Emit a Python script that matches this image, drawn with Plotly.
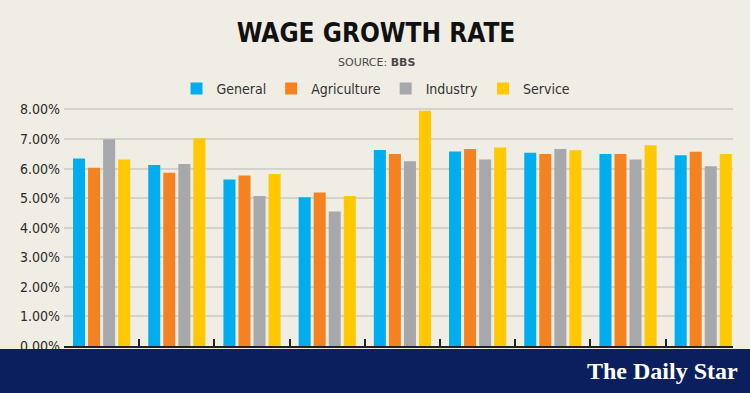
import plotly.graph_objects as go

# ---- data ----
groups = ["1", "2", "3", "4", "5", "6", "7", "8", "9"]
general = [6.34, 6.12, 5.63, 5.03, 6.63, 6.58, 6.54, 6.49, 6.45]
agriculture = [6.03, 5.86, 5.77, 5.19, 6.49, 6.66, 6.49, 6.49, 6.57]
industry = [6.99, 6.16, 5.07, 4.55, 6.25, 6.31, 6.66, 6.31, 6.08]
service = [6.31, 7.03, 5.82, 5.07, 7.96, 6.71, 6.62, 6.79, 6.49]
series_names = ["General", "Agriculture", "Industry", "Service"]
y_ticks = [0, 1, 2, 3, 4, 5, 6, 7, 8]
y_tick_labels = ["0.00%", "1.00%", "2.00%", "3.00%", "4.00%", "5.00%", "6.00%", "7.00%", "8.00%"]

title_text = "WAGE GROWTH RATE"
source_text = "SOURCE: <b>BBS</b>"
logo_text = "The Daily Star"

# ---- style ----
colors = ["#00aeef", "#f58220", "#a7a8ac", "#ffc800"]
bg = "#f0ede5"
navy = "#0b1f5f"
cond = "DejaVu Sans Condensed, sans-serif"

fig = go.Figure()
for name, vals, col in zip(series_names, [general, agriculture, industry, service], colors):
    fig.add_trace(go.Bar(name=name, x=groups, y=vals, marker=dict(color=col, line=dict(width=0))))

fig.update_layout(
    width=750, height=393,
    paper_bgcolor=bg, plot_bgcolor=bg,
    margin=dict(l=64, r=17, t=108, b=47),
    barmode="group", bargap=0.2, bargroupgap=0.2,
    title=dict(text="<b>" + title_text + "</b>", x=376 / 750, xanchor="center",
               y=1 - 33 / 393, yanchor="middle",
               font=dict(family=cond, size=26, color="#111111")),
    legend=dict(orientation="h", x=0.4664, xanchor="center", y=1.08, yanchor="middle",
                font=dict(family=cond, size=14, color="#333333"),
                bgcolor="rgba(0,0,0,0)", itemwidth=30, traceorder="normal"),
    showlegend=True,
)

fig.update_xaxes(
    range=[-0.5, 8.396], showticklabels=False, showgrid=False, zeroline=False,
    showline=True, linecolor="#222222", linewidth=2,
    tickson="boundaries", ticks="inside", ticklen=7, tickwidth=1.5, tickcolor="#222222",
)
fig.update_yaxes(
    range=[0, 8.05], tickvals=y_ticks, ticktext=y_tick_labels,
    showgrid=True, gridcolor="#d3d2cc", gridwidth=2, zeroline=False,
    showline=False, ticks="", ticklabelstandoff=3,
    tickfont=dict(family=cond, size=14, color="#2a2a2a"),
)

# navy footer band
fig.add_shape(type="rect", xref="paper", yref="paper", x0=-0.2, x1=1.1,
              y0=-0.0126, y1=-0.25, fillcolor=navy, line=dict(width=0), layer="above")

fig.add_annotation(text=source_text, xref="paper", yref="paper", x=0.4664, y=1.193,
                   xanchor="center", yanchor="middle", showarrow=False,
                   font=dict(family="DejaVu Sans", size=11, color="#4a4a4a"))
fig.add_annotation(text="<b>" + logo_text + "</b>", xref="paper", yref="paper", x=0.894, y=-0.107,
                   xanchor="center", yanchor="middle", showarrow=False,
                   font=dict(family="Liberation Serif, DejaVu Serif, serif", size=24, color="#ffffff"))

fig.write_html("out.html", config={"displayModeBar": False},
               post_script="document.body.style.margin='0';")
